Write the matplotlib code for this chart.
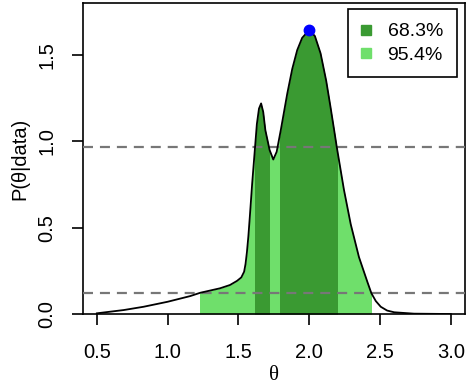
import matplotlib
matplotlib.use("Agg")
import matplotlib.pyplot as plt
from matplotlib.lines import Line2D
from matplotlib.patches import Rectangle

# Posterior density
theta = [0.50, 0.69, 0.83, 1.00, 1.16, 1.23, 1.37, 1.44, 1.49, 1.52, 1.54, 1.55,
         1.56, 1.57, 1.58, 1.597, 1.61, 1.63, 1.645, 1.66, 1.675, 1.69, 1.72,
         1.746, 1.77, 1.80, 1.845, 1.88, 1.915, 1.95, 2.00, 2.04, 2.08, 2.12,
         2.15, 2.175, 2.194, 2.245, 2.293, 2.351, 2.411, 2.439, 2.47, 2.505,
         2.55, 2.60, 2.74, 3.00]
density = [0.004, 0.023, 0.042, 0.071, 0.104, 0.123, 0.149, 0.168, 0.192, 0.212,
           0.245, 0.29, 0.36, 0.45, 0.56, 0.757, 0.892, 1.10, 1.19, 1.220, 1.17,
           1.065, 0.95, 0.895, 0.94, 1.07, 1.278, 1.42, 1.529, 1.60, 1.645,
           1.61, 1.51, 1.35, 1.20, 1.07, 0.969, 0.72, 0.52, 0.33, 0.185, 0.12,
           0.075, 0.042, 0.020, 0.010, 0.002, 0.0]

hpd68_intervals = [(1.620, 1.717), (1.790, 2.194)]
hpd95_intervals = [(1.229, 2.436)]
level68 = 0.97
level95 = 0.12
mode_theta = 2.0
mode_density = 1.645
legend_labels = ["68.3%", "95.4%"]
xticks = [0.5, 1.0, 1.5, 2.0, 2.5, 3.0]
yticks = [0.0, 0.5, 1.0, 1.5]

col68 = "#3a9a32"
col95 = "#6fdf6b"

plt.rcParams['font.family'] = ['Liberation Sans', 'DejaVu Sans']
plt.rcParams['lines.scale_dashes'] = False

fig = plt.figure(figsize=(4.74, 3.88), dpi=100)
ax = fig.add_axes([0.1745, 0.1907, 0.981 - 0.1745, 0.9915 - 0.1907])

for lo, hi in hpd95_intervals:
    poly = ax.fill_between(theta, density, 0, color=col95, lw=0, zorder=1)
    rect = Rectangle((lo, 0), hi - lo, 2, transform=ax.transData)
    poly.set_clip_path(rect)
for lo, hi in hpd68_intervals:
    poly = ax.fill_between(theta, density, 0, color=col68, lw=0, zorder=2)
    rect = Rectangle((lo, 0), hi - lo, 2, transform=ax.transData)
    poly.set_clip_path(rect)

ax.plot(theta, density, color="black", lw=1.3, zorder=4)
for lev in (level68, level95):
    ax.axhline(lev, color="#777777", lw=1.6, dashes=(7.2, 5.0), zorder=3)

ax.plot([mode_theta], [mode_density], 'o', color="#0000ff", markersize=7.5,
        zorder=5, clip_on=False)

ax.set_xlim(0.4, 3.1)
ax.set_ylim(0, 1.8)
ax.set_xticks(xticks)
ax.set_xticklabels([f"{v:.1f}" for v in xticks], fontsize=14.5)
ax.set_yticks(yticks)
ax.set_yticklabels([f"{v:.1f}" for v in yticks], fontsize=14.5, rotation=90, va='center')
ax.tick_params(direction='out', length=8, width=1.2, colors='black')
ax.tick_params(axis='x', pad=13)
ax.tick_params(axis='y', pad=11)
for s in ax.spines.values():
    s.set_linewidth(1.2)

ax.set_xlabel("θ", fontsize=15, family=['Liberation Serif', 'DejaVu Serif'], labelpad=3)
ax.set_ylabel("P(θ|data)", fontsize=14.5, labelpad=6)

handles = [Line2D([], [], marker='s', ls='none', color=col68, markersize=7),
           Line2D([], [], marker='s', ls='none', color=col95, markersize=7)]
leg = ax.legend(handles, legend_labels, loc='upper right', bbox_to_anchor=(0.978, 0.981),
                borderaxespad=0, fontsize=14, frameon=True, fancybox=False,
                framealpha=1, edgecolor='black', handlelength=0.5, handletextpad=0.85,
                labelspacing=0.3, borderpad=0.7)
leg.get_frame().set_linewidth(1.2)

fig.savefig("out.png", dpi=100)
